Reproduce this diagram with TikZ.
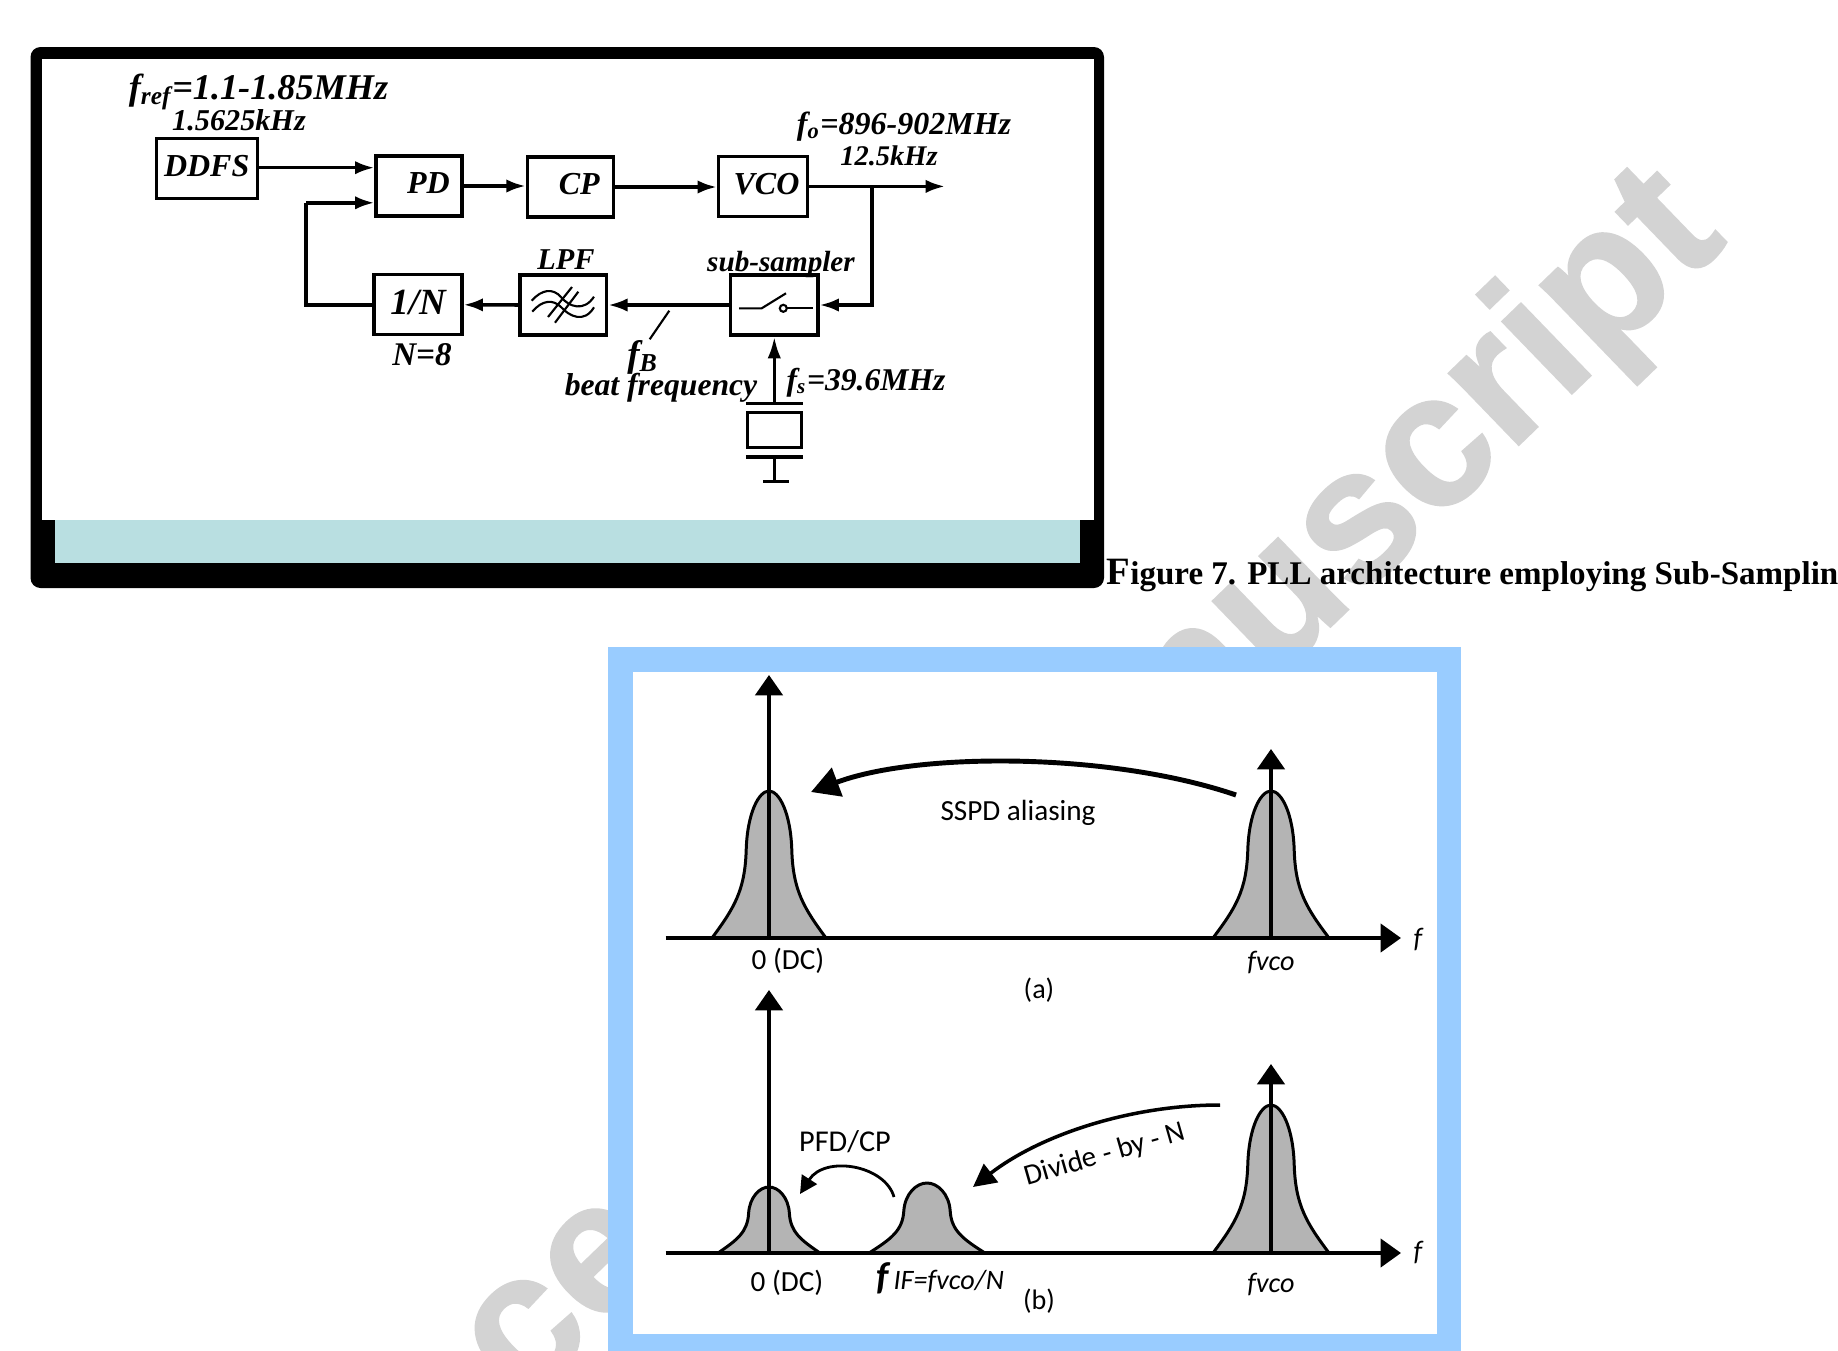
\documentclass[tikz,border=0pt]{standalone}
\usepackage{fontspec}
\setmainfont{Liberation Serif}
\newfontfamily\plotfont{Carlito}
\newfontfamily\markfont[BoldFeatures={FakeBold=1}]{Liberation Sans}
\usetikzlibrary{arrows.meta}
\definecolor{panelblue}{HTML}{99CCFF}
\definecolor{bandteal}{HTML}{B9DFE1}
\definecolor{markgray}{HTML}{D3D3D3}
\definecolor{bumpgray}{HTML}{B4B4B4}
\tikzset{
	wire/.style={line width=1pt},
	flow/.style={wire,-{Latex[length=5.5pt,width=3.8pt]}},
	blockbox/.style={draw,line width=0.9pt,inner sep=0pt,minimum height=0.6cm,text depth=1.6pt,font=\fontsize{9.1}{12}\bfseries\itshape},
	blocktext/.style={inner sep=0pt,font=\fontsize{8.6}{10}\bfseries\itshape},
	plottext/.style={inner sep=0pt,font=\fontsize{8.3}{9}\plotfont},
	plotitalic/.style={inner sep=0pt,font=\fontsize{8}{9}\plotfont\itshape},
	plotaxis/.style={line width=1.1pt,-{Triangle[length=5.8pt,width=8pt]}},
	spike/.style={line width=1pt,-{Triangle[length=5.8pt,width=7.8pt]}},
	bumpfill/.style={draw,fill=bumpgray,line width=0.85pt},
}
\newcommand{\bump}[4]{
	\begin{scope}[shift={(#1,#2)},xscale=#3,yscale=#4]
		\filldraw[bumpfill] (-1,0) .. controls (-0.62,-0.2) and (-0.42,-0.32) .. (-0.4,-0.6)
			.. controls (-0.38,-0.85) and (-0.18,-1) .. (0,-1)
			.. controls (0.18,-1) and (0.38,-0.85) .. (0.4,-0.6)
			.. controls (0.42,-0.32) and (0.62,-0.2) .. (1,0) -- cycle;
	\end{scope}
}

\begin{document}
\begin{tikzpicture}[x=0.01cm,y=-0.01cm]
	\useasboundingbox (0,0) rectangle (1838,1351);
	\fill[white] (0,0) rectangle (1838,1351);
	\begin{scope}
		\clip (0,0) rectangle (1838,1351);
		\node (mark) [anchor=base east,rotate=44,inner sep=0pt,text=markgray,font=\fontsize{54}{60}\markfont\bfseries] at (1730,241) {Accepted Manuscript};
	\end{scope}

	\fill[rounded corners=0.1cm] (30.5,47) rectangle (1104,588);
	\fill[white] (42,59) rectangle (1093.5,520);
	\fill[bandteal] (55,520) rectangle (1080,563);
	\node (caption) [anchor=west,inner sep=0pt,font=\fontsize{9.4}{11}\bfseries] at (1106,575.5) {{\fontsize{11}{11}\bfseries F}igure 7. PLL architecture employing Sub-Samplin};

	\node (ddfs) [blockbox,minimum width=1.01cm] at (206.7,168.3) {DDFS};
	\node (pd) [blockbox,minimum width=0.86cm] at (419,186) {\hspace*{0.19cm}PD};
	\node (cp) [blockbox,minimum width=0.86cm] at (570.3,187) {\hspace*{0.18cm}CP};
	\node (vco) [blockbox,minimum width=0.89cm] at (763,186.4) {\hspace*{0.07cm}VCO};
	\node (div) [blockbox,minimum width=0.88cm,font=\fontsize{10.5}{12}\bfseries\itshape] at (418,304.8) {1/N};
	\node (lpf) [blockbox,minimum width=0.867cm] at (563.3,305) {};
	\node (sub) [blockbox,minimum width=0.873cm] at (774.3,305) {};
	\node (xtal) [draw,line width=0.9pt,inner sep=0pt,minimum width=0.537cm,minimum height=0.35cm] at (774.3,430.2) {};

	\coordinate (fbk) at (306,202.8);
	\coordinate (outp) at (945,186.4);
	\coordinate (tap) at (872,186.4);
	\coordinate (xtaltop) at (774.3,403.3);
	\coordinate (xtallow) at (774.3,457);
	\coordinate (gnd) at (774.3,481.7);

	\draw[flow] (ddfs.east |- 0,167.7) -- (pd.west |- 0,167.7);
	\draw[wire] (div.west) -- (fbk |- div.west) -- (fbk);
	\draw[flow] (fbk) -- (fbk -| pd.west);
	\draw[flow] (pd.east) -- (pd.east -| cp.west);
	\draw[flow] (cp.east) -- (cp.east -| vco.west);
	\draw[flow] (vco.east) -- (outp);
	\draw[flow] (tap) -- (tap |- sub.east) -- (sub.east);
	\draw[flow] (sub.west) -- (lpf.east);
	\draw[flow] (lpf.west) -- (div.east);
	\draw[wire,-{Latex[length=6.2pt,width=3.8pt]}] (xtaltop) -- (sub.south);
	\draw[wire] (xtaltop -| xtal.west) -- (xtaltop -| xtal.east);
	\draw[wire] (xtallow -| xtal.west) -- (xtallow -| xtal.east);
	\draw[wire] (xtallow) -- (gnd);
	\draw[wire] (763.3,481.7) -- (789.3,481.7);

	\draw[line width=0.6pt] (739,308.3) -- (761.7,308.3) -- (786,293.3);
	\draw[line width=0.6pt] (783.3,308.3) circle [radius=3.5];
	\draw[line width=0.6pt] (787.3,308.3) -- (812.7,308.3);
	\draw[line width=0.6pt] (531.7,300.7) .. controls (542,289) and (553,288) .. (561,297) .. controls (569,307) and (584,312) .. (594,296.7);
	\draw[line width=0.6pt] (532.3,311.7) .. controls (542,300) and (553,299) .. (561,307) .. controls (569,316) and (584,324) .. (594,307.3);
	\draw[line width=0.6pt] (548,317) -- (572,287);
	\draw[line width=0.6pt] (555,322.7) -- (578.3,291.7);
	\draw[line width=0.6pt] (669.3,310.7) -- (649.7,339.3);

	\node (frefl) [blocktext,font=\fontsize{10.3}{12}\bfseries\itshape] at (258.5,92) {f\textsubscript{ref}=1.1-1.85MHz};
	\node (frefs) [blocktext] at (239,120) {1.5625kHz};
	\node (fol) [blocktext,font=\fontsize{9.1}{12}\bfseries\itshape] at (904,127) {f\textsubscript{o}=896-902MHz};
	\node (fos) [blocktext,font=\fontsize{8.1}{10}\bfseries\itshape] at (889,156) {12.5kHz};
	\node (lpfl) [blocktext] at (566,260) {LPF};
	\node (subl) [blocktext,font=\fontsize{8.3}{10}\bfseries\itshape] at (781,264) {sub-sampler};
	\node (ndiv) [blocktext,font=\fontsize{9.4}{12}\bfseries\itshape] at (422,355) {N=8};
	\node (fbl) [blocktext,font=\fontsize{10.5}{12}\bfseries\itshape] at (643,357) {f\textsubscript{B}};
	\node (beat) [blocktext,font=\fontsize{9}{10}\bfseries\itshape] at (661,388) {beat frequency};
	\node (fsl) [blocktext,font=\fontsize{9}{10}\bfseries\itshape] at (866,382.5) {f\textsubscript{s}=39.6MHz};

	\fill[panelblue] (608,647) rectangle (1461,1351);
	\fill[white] (633,672) rectangle (1437,1334);

	\bump{769}{938}{57}{147}
	\bump{1271}{938}{58}{147}
	\coordinate (axaL) at (665.5,938);
	\coordinate (axaR) at (1401,938);
	\coordinate (dcaB) at (769,938);
	\coordinate (dcaT) at (769,675);
	\coordinate (vcoaB) at (1271,938);
	\coordinate (vcoaT) at (1271,749);
	\coordinate (aliasS) at (1236,795);
	\coordinate (aliasE) at (811,792);
	\draw[spike] (dcaB) -- (dcaT);
	\draw[spike] (vcoaB) -- (vcoaT);
	\draw[plotaxis] (axaL) -- (axaR);
	\draw[line width=1.4pt,-{Triangle[length=8pt,width=8.5pt]}] (aliasS) .. controls (1110,752) and (917,752) .. (aliasE);
	\node (aliasl) [plottext] at (1018,813) {SSPD aliasing};
	\node (dca) [plottext] at (788,961) {0 (DC)};
	\node (vcoa) [plotitalic] at (1271,962) {fvco};
	\node (fa) [plotitalic] at (1418,939) {f};
	\node (capa) [plottext,font=\fontsize{8}{9}\plotfont] at (1039,990) {(a)};

	\bump{769}{1253}{51}{66}
	\bump{927}{1253}{58}{70}
	\bump{1271}{1253}{58}{148}
	\coordinate (axbL) at (665.5,1253);
	\coordinate (axbR) at (1401,1253);
	\coordinate (dcbB) at (769,1253);
	\coordinate (dcbT) at (769,990);
	\coordinate (vcobB) at (1271,1253);
	\coordinate (vcobT) at (1271,1064);
	\coordinate (divS) at (1220,1105);
	\coordinate (divE) at (973,1187);
	\coordinate (pfdS) at (894,1197);
	\coordinate (pfdE) at (800,1194);
	\draw[spike] (dcbB) -- (dcbT);
	\draw[spike] (vcobB) -- (vcobT);
	\draw[plotaxis] (axbL) -- (axbR);
	\draw[line width=1pt,-{Triangle[length=6.5pt,width=6.5pt]}] (divS) .. controls (1130,1105) and (1040,1135) .. (divE);
	\draw[line width=0.8pt,-{Triangle[length=5pt,width=5pt]}] (pfdS) .. controls (885,1165) and (825,1155) .. (pfdE);
	\node (divl) [plottext,rotate=16] at (1105,1155) {Divide - by - N};
	\node (pfdl) [plottext,font=\fontsize{8.6}{9}\plotfont] at (845,1142) {PFD/CP};
	\node (dcb) [plottext] at (787,1283) {0 (DC)};
	\node (fif) [anchor=base west,plotitalic] at (876,1289) {{\fontsize{11}{11}\bfseries f}\,IF=fvco/N};
	\node (vcob) [plotitalic] at (1271,1284) {fvco};
	\node (fb) [plotitalic] at (1418,1252) {f};
	\node (capb) [plottext,font=\fontsize{8}{9}\plotfont] at (1039,1301) {(b)};
\end{tikzpicture}
\end{document}
